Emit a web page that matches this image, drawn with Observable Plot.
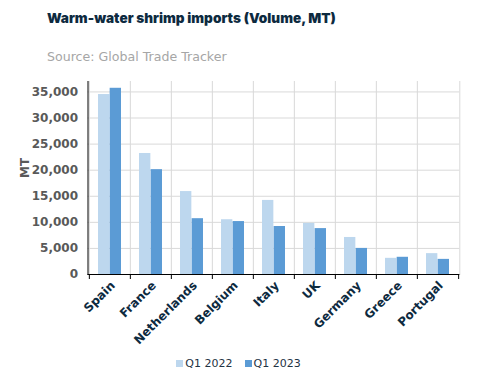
<!DOCTYPE html>
<html>
<head>
<meta charset="utf-8">
<script src="https://cdn.jsdelivr.net/npm/d3@7"></script>
<script src="https://cdn.jsdelivr.net/npm/@observablehq/plot@0.6"></script>
<style>
  body { margin: 0; background: #fff; }
  #wrap { position: relative; width: 500px; height: 389px; overflow: hidden; }
  #title { position: absolute; left: 47px; top: 10px; font-family: Inter, sans-serif; font-weight: 900; font-size: 13.6px; color: #0d2a3f; white-space: nowrap; }
  #subtitle { position: absolute; left: 47px; top: 49px; font-family: "DejaVu Sans", sans-serif; font-size: 12.6px; color: #a6a6a6; white-space: nowrap; }
  #chart { position: absolute; left: 0; top: 0; }
  #legend { position: absolute; left: 0; width: 477px; top: 357px; text-align: center; font-family: "DejaVu Sans", sans-serif; font-size: 11px; color: #1f3344; }
  .item { display: inline-flex; align-items: center; margin: 0 6px; }
  .sw { width: 7px; height: 7px; margin-right: 2px; display: inline-block; }
</style>
</head>
<body>
<div id="wrap">
  <div id="chart"></div>
  <div id="title"></div>
  <div id="subtitle"></div>
  <div id="legend"></div>
</div>
<script>
const titleText = "Warm-water shrimp imports (Volume, MT)";
const subtitleText = "Source: Global Trade Tracker";
const countries = ["Spain", "France", "Netherlands", "Belgium", "Italy", "UK", "Germany", "Greece", "Portugal"];
const series = ["Q1 2022", "Q1 2023"];
const q1_2022 = [34500, 23200, 15900, 10500, 14200, 9800, 7100, 3100, 4000];
const q1_2023 = [35700, 20100, 10700, 10150, 9200, 8800, 5000, 3300, 2900];
const yTicks = [0, 5000, 10000, 15000, 20000, 25000, 30000, 35000];
const colors = ["#bdd7ee", "#5b9bd5"];

document.getElementById("title").textContent = titleText;
document.getElementById("subtitle").textContent = subtitleText;

const rows2022 = countries.map((c, i) => ({country: c, value: q1_2022[i]}));
const rows2023 = countries.map((c, i) => ({country: c, value: q1_2023[i]}));

const W = 500, H = 389, mL = 87.5, mR = 40.7, mT = 81, mB = 115;
const bw = (W - mL - mR) / countries.length;
const gap = 9;
const barW = (bw - 2 * gap) / 2;

const chart = Plot.plot({
  width: W, height: H,
  marginLeft: mL, marginRight: mR, marginTop: mT, marginBottom: mB,
  x: {type: "band", domain: countries, padding: 0},
  y: {domain: [0, 37000]},
  style: {fontFamily: "DejaVu Sans, sans-serif", background: "transparent"},
  marks: [
    Plot.gridY(yTicks.slice(1), {stroke: "#d9d9d9", strokeOpacity: 1}),
    Plot.gridX(countries, {stroke: "#d9d9d9", strokeOpacity: 1, dx: -bw / 2}),
    Plot.frame({anchor: "right", stroke: "#d9d9d9"}),
    Plot.barY(rows2022, {x: "country", y: "value", fill: colors[0], insetLeft: gap, insetRight: gap + barW}),
    Plot.barY(rows2023, {x: "country", y: "value", fill: colors[1], insetLeft: gap + barW, insetRight: gap}),
    Plot.frame({anchor: "left", stroke: "black"}),
    Plot.ruleY([0], {stroke: "black"}),
    Plot.axisY({ticks: yTicks, tickFormat: d3.format(","), tickSize: 5, tickPadding: 5, label: null,
      fontSize: 12, fontWeight: "bold", fill: "#595959", stroke: null, color: "black"}),
    Plot.axisX({ticks: countries, tickSize: 5, text: null, dx: -bw / 2, label: null}),
    Plot.axisX({ticks: [countries[countries.length - 1]], tickSize: 5, text: null, dx: bw / 2, label: null}),
    Plot.axisX({ticks: countries, tickSize: 0, tickPadding: 9, tickRotate: -45, label: null, dx: 3,
      fontSize: 12, fontWeight: "bold", fill: "#0d2a3f"}),
    Plot.text(["MT"], {frameAnchor: "left", dx: -63, rotate: -90, fontSize: 12, fontWeight: "bold", fill: "#595959"})
  ]
});
document.getElementById("chart").appendChild(chart);

const legend = document.getElementById("legend");
series.forEach((s, i) => {
  const it = document.createElement("span");
  it.className = "item";
  const sw = document.createElement("span");
  sw.className = "sw";
  sw.style.background = colors[i];
  it.appendChild(sw);
  it.appendChild(document.createTextNode(s));
  legend.appendChild(it);
});
</script>
</body>
</html>
